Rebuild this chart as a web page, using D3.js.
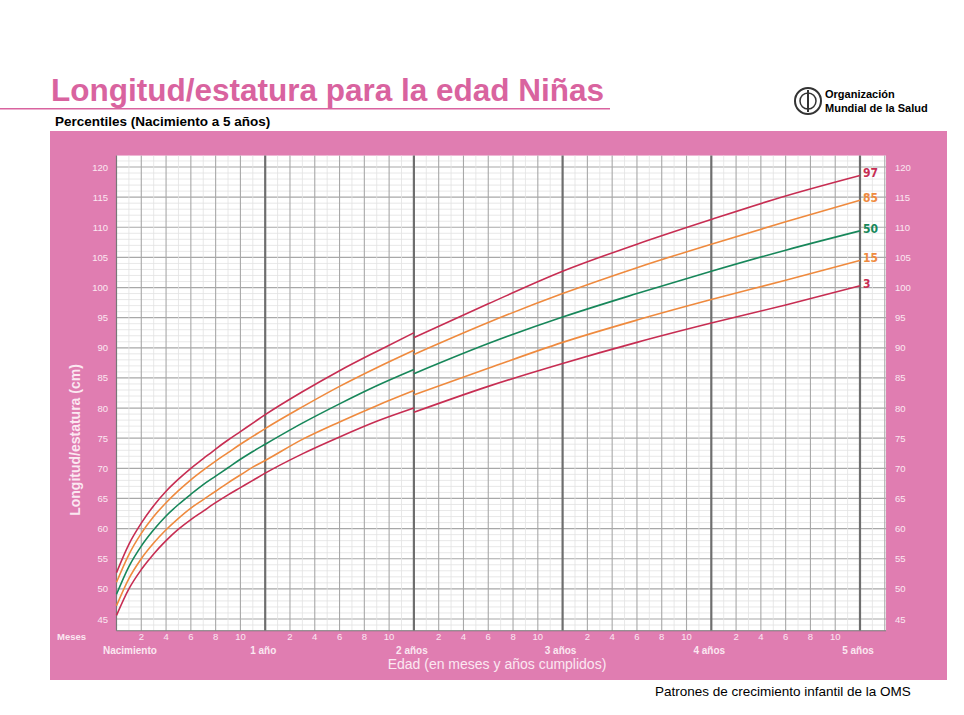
<!DOCTYPE html>
<html><head><meta charset="utf-8">
<script src="https://cdn.jsdelivr.net/npm/d3@7"></script>
<style>body{margin:0;background:#fff}svg{display:block}</style>
</head><body><svg id="c" width="964" height="715"></svg>
<script>
const percentiles = ["3","15","50","85","97"];
const colors = ["#c72d52","#ef8a3e","#17875a","#ef8a3e","#c72d52"];
const lengthMonths = [0,1,2,3,4,5,6,7,8,9,10,11,12,15,18,21,24];
const lengthValues = [
 [45.6,50.0,53.2,55.8,58.0,59.9,61.5,62.9,64.3,65.6,66.8,68.0,69.2,72.4,75.2,77.8,80.0],
 [47.2,51.7,55.0,57.6,59.8,61.7,63.4,64.8,66.2,67.6,68.9,70.2,71.3,74.8,77.7,80.4,82.9],
 [49.1,53.7,57.1,59.8,62.1,64.0,65.7,67.3,68.7,70.1,71.5,72.8,74.0,77.5,80.7,83.7,86.4],
 [51.1,55.7,59.2,62.0,64.3,66.3,68.1,69.7,71.2,72.6,74.0,75.3,76.6,80.2,83.6,86.7,89.6],
 [52.7,57.4,60.9,63.8,66.2,68.2,70.0,71.6,73.2,74.7,76.1,77.5,78.9,82.7,86.2,89.4,92.5]];
const heightMonths = [24,30,36,42,48,54,60];
const heightValues = [
 [79.3,83.6,87.4,90.9,94.1,97.1,100.3],
 [82.2,86.6,90.9,94.6,98.0,101.2,104.5],
 [85.7,90.7,95.1,99.0,102.7,106.2,109.4],
 [88.9,94.2,99.0,103.3,107.2,110.9,114.5],
 [91.7,97.3,102.7,107.2,111.3,115.2,118.6]];
const yTicks = [45,50,55,60,65,70,75,80,85,90,95,100,105,110,115,120];
const monthTickLabels = ["2","4","6","8","10"];
const yearLabels = ["Nacimiento","1 año","2 años","3 años","4 años","5 años"];

const svg = d3.select("#c");
const x = d3.scaleLinear().domain([0,60]).range([116.5,860]);
const y = d3.scaleLinear().domain([45,120]).range([619,167]);
const xMax = 62.1, yMin = 43.05, yMax = 121.9;
const font = "Liberation Sans, Arial, sans-serif";

// header
svg.append("text").attr("x",51).attr("y",101).attr("font-family",font).attr("font-weight","bold")
  .attr("font-size",31.5).attr("fill","#d9639f").text("Longitud/estatura para la edad Niñas");
svg.append("rect").attr("x",0).attr("y",108).attr("width",610).attr("height",1.5).attr("fill","#d9639f");
svg.append("text").attr("x",55).attr("y",126).attr("font-family",font).attr("font-weight","bold")
  .attr("font-size",13.5).attr("fill","#000").text("Percentiles (Nacimiento a 5 años)");
// logo
const lg = svg.append("g").attr("transform","translate(808,101)");
lg.append("circle").attr("r",13).attr("fill","#fff").attr("stroke","#333").attr("stroke-width",2);
lg.append("circle").attr("r",8).attr("fill","none").attr("stroke","#333").attr("stroke-width",1.5);
lg.append("line").attr("y1",-11).attr("y2",11).attr("stroke","#333").attr("stroke-width",2);
svg.append("text").attr("x",825).attr("y",98).attr("font-family",font).attr("font-weight","bold").attr("font-size",11).text("Organización");
svg.append("text").attr("x",825).attr("y",112).attr("font-family",font).attr("font-weight","bold").attr("font-size",11).text("Mundial de la Salud");

// frame
svg.append("rect").attr("x",50).attr("y",131).attr("width",897).attr("height",549).attr("fill","#e07db1");
svg.append("rect").attr("x",x(0)).attr("y",y(yMax)).attr("width",x(xMax)-x(0)).attr("height",y(yMin)-y(yMax)).attr("fill","#fff");

const g = svg.append("g");
for(let v=44; v<=121; v++){
  const major = v%5===0;
  g.append("line").attr("x1",x(0)).attr("x2",x(xMax)).attr("y1",y(v)).attr("y2",y(v))
   .attr("stroke",major?"#a8a8a8":"#e2e2e2").attr("stroke-width",major?1.2:0.8);
}
for(let m=1; m<=62; m++){
  const yr = m%12===0, two = m%2===0;
  g.append("line").attr("x1",x(m)).attr("x2",x(m)).attr("y1",y(yMax)).attr("y2",y(yMin))
   .attr("stroke",yr?"#6e6e6e":two?"#a8a8a8":"#e2e2e2").attr("stroke-width",yr?2.2:two?1.1:0.8);
}
g.append("line").attr("x1",x(0)).attr("x2",x(0)).attr("y1",y(yMax)).attr("y2",y(yMin)).attr("stroke","#777").attr("stroke-width",1.2);
g.append("line").attr("x1",x(0)).attr("x2",x(xMax)).attr("y1",y(yMin)).attr("y2",y(yMin)).attr("stroke","#777").attr("stroke-width",1.2);

const line = d3.line().x(d=>x(d[0])).y(d=>y(d[1])).curve(d3.curveMonotoneX);
percentiles.forEach((p,i)=>{
  g.append("path").attr("d",line(lengthMonths.map((m,j)=>[m,lengthValues[i][j]])))
   .attr("fill","none").attr("stroke",colors[i]).attr("stroke-width",1.6);
  g.append("path").attr("d",line(heightMonths.map((m,j)=>[m,heightValues[i][j]])))
   .attr("fill","none").attr("stroke",colors[i]).attr("stroke-width",1.6);
  g.append("text").attr("x",x(60)+3).attr("y",y(heightValues[i][6])+2).attr("font-family","DejaVu Sans Condensed, sans-serif")
   .attr("font-weight","bold").attr("font-size",12).attr("fill",colors[i]).text(p);
});

const tc = "#fbe8f1";
yTicks.forEach(v=>{
  svg.append("text").attr("x",108).attr("y",y(v)+3.5).attr("text-anchor","end").attr("font-family",font).attr("font-size",9.5).attr("fill",tc).text(v);
  svg.append("text").attr("x",895).attr("y",y(v)+3.5).attr("font-family",font).attr("font-size",9.5).attr("fill",tc).text(v);
});
for(let yr=0; yr<5; yr++){
  monthTickLabels.forEach(t=>{
    svg.append("text").attr("x",x(yr*12+ +t)).attr("y",640).attr("text-anchor","middle").attr("font-family",font).attr("font-size",9.5).attr("fill",tc).text(t);
  });
}
svg.append("text").attr("x",57).attr("y",640).attr("font-family",font).attr("font-weight","bold").attr("font-size",9.5).attr("fill",tc).text("Meses");
yearLabels.forEach((t,i)=>{
  svg.append("text").attr("x",i===0?103:x(i*12)-2).attr("y",654).attr("text-anchor",i===0?"start":"middle")
   .attr("font-family",font).attr("font-weight","bold").attr("font-size",10).attr("fill",tc).text(t);
});
svg.append("text").attr("x",497).attr("y",669).attr("text-anchor","middle").attr("font-family",font).attr("font-size",14).attr("fill",tc).text("Edad (en meses y años cumplidos)");
svg.append("text").attr("transform","translate(80,440) rotate(-90)").attr("text-anchor","middle").attr("font-family",font)
  .attr("font-weight","bold").attr("font-size",14).attr("fill",tc).text("Longitud/estatura (cm)");
svg.append("text").attr("x",655).attr("y",696).attr("font-family",font).attr("font-size",13.5).attr("fill","#000").text("Patrones de crecimiento infantil de la OMS");
</script></body></html>
